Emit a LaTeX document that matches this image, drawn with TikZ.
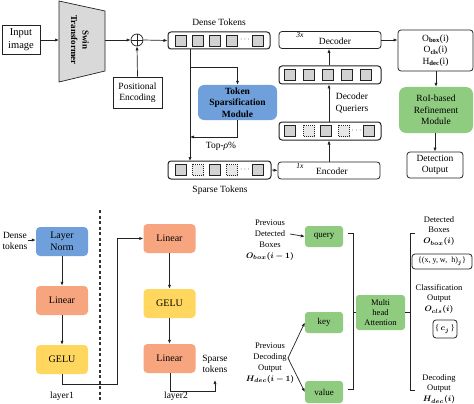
\documentclass[tikz,border=0pt]{standalone}
\usepackage{fontspec}
\setmainfont{Liberation Serif}
\usepackage{bm}
\usetikzlibrary{arrows.meta,calc}
\definecolor{blueM}{HTML}{6FA0DC}
\definecolor{orangeM}{HTML}{F7A57F}
\definecolor{yellowM}{HTML}{FFD75E}
\definecolor{greenM}{HTML}{90CC80}
\definecolor{lineM}{HTML}{222222}
\begin{document}
\begin{tikzpicture}[x=1pt,y=-1pt,
  every node/.style={font=\fontsize{9.5}{11.5}\selectfont, text=black},
  arr/.style={-{Latex[length=4pt,width=3.2pt]}, line width=0.7pt, draw=lineM},
  ln/.style={line width=0.7pt, draw=lineM},
  sbox/.style={draw=lineM, line width=0.8pt, align=center, inner sep=0pt},
  rbox/.style={sbox, rounded corners=3pt},
  tbox/.style={draw=lineM, line width=1pt, rounded corners=3pt, inner sep=0pt},
  cbox/.style={rounded corners=4pt, align=center, inner sep=0pt, minimum width=52pt, minimum height=29pt, font=\fontsize{10}{12}\selectfont},
  tok/.style={draw=lineM, line width=0.7pt, fill=gray!35, minimum size=11pt, inner sep=0pt},
  dtok/.style={tok, dash pattern=on 1pt off 1pt, fill=gray!18},
  lbl/.style={align=center, inner sep=0pt, font=\fontsize{8.5}{10.8}\selectfont},
  dots/.style={inner sep=0pt, font=\fontsize{8}{8}\selectfont}
]
\useasboundingbox (0,0) rectangle (474,404);

% ---------- top part ----------
\node[sbox, minimum width=38pt, minimum height=29pt, font=\fontsize{10.5}{13}\selectfont] (inp) at (21,40) {Input\\image};
\draw[ln, fill=gray!30] (59,1) -- (105,11) -- (105,71) -- (59,82) -- cycle;
\node[rotate=-90, align=center, font=\bfseries\fontsize{9}{11.5}\selectfont, inner sep=0pt] (swin) at (80,40) {Swin\\Transformer};
\coordinate (swinL) at (59,40);
\coordinate (swinR) at (105,40);
\draw[arr] (inp.east) -- (swinL);
\node[circle, draw=lineM, line width=0.7pt, minimum size=12pt, inner sep=0pt,
  path picture={\draw[line width=0.7pt] (path picture bounding box.north) -- (path picture bounding box.south)
  (path picture bounding box.west) -- (path picture bounding box.east);}] (plus) at (137,40) {};
\draw[arr] (swinR) -- (plus.west);
\node[sbox, minimum width=49pt, minimum height=31pt] (pe) at (137.5,92.5) {Positional\\Encoding};
\draw[arr] (pe.north) -- (plus.south);

% dense tokens
\node[tbox, minimum width=102pt, minimum height=17pt] (dense) at (219,40.5) {};
\node[inner sep=0pt] (denselbl) at (219,22) {Dense Tokens};
\foreach \x [count=\i] in {180.5,198,215,232,257.5} \node[tok] (d\i) at (\x,40.5) {};
\node[dots] (ddots) at (245,40) {$\cdots$};
\draw[arr] (plus.east) -- (dense.west);

% token sparsification
\node[rounded corners=6pt, fill=blueM, minimum width=79pt, minimum height=35pt, align=center, inner sep=0pt,
  font=\bfseries\fontsize{9.5}{11.5}\selectfont] (tsm) at (237.5,102.5) {Token\\Sparsification\\Module};

% sparse tokens
\node[tbox, minimum width=103pt, minimum height=18pt] (sparse) at (219.5,170) {};
\node[inner sep=0pt] (sparselbl) at (220,190) {Sparse Tokens};
\node[tok] (s1) at (180.5,170) {};
\node[dtok] (s2) at (198,170) {};
\node[tok] (s3) at (215,170) {};
\node[dtok] (s4) at (232,170) {};
\node[tok] (s5) at (257.5,170) {};
\node[dots] (sdots) at (245,169.5) {$\cdots$};

\coordinate (brA) at (190,49);
\coordinate (brB) at (190,67);
\coordinate (brC) at (190,137);
\coordinate (brD) at (190,161);
\draw[arr] (brA) -- (brD);
\draw[arr] (brB) -| (tsm.north);
\draw[arr] (tsm.south) |- (brC);
\node[inner sep=0pt] (topp) at (221,146) {Top-\textit{ρ}\%};

% encoder
\node[rbox, minimum width=102pt, minimum height=17pt] (enc) at (329,170.5) {};
\node[inner sep=0pt, font=\itshape\fontsize{7.5}{8}\selectfont] (enc1x) at (300,166) {1x};
\node[inner sep=0pt] (enclbl) at (332,171) {Encoder};
\draw[arr] (sparse.east) -- (enc.west);

% decoder queries
\node[tbox, minimum width=102pt, minimum height=18pt] (qlow) at (330,131) {};
\node[tok] (q1) at (289.5,131) {};
\node[dtok] (q2) at (309,131) {};
\node[tok] (q3) at (326,131) {};
\node[dtok] (q4) at (344,131) {};
\node[tok] (q5) at (368.5,131) {};
\node[dots] (qdots) at (356.5,130.5) {$\cdots$};

\node[tbox, minimum width=102pt, minimum height=18pt] (qup) at (330,75) {};
\foreach \x [count=\i] in {290,309,327.5,347,366} \node[tok] (u\i) at (\x,75) {};

\node[rbox, minimum width=102pt, minimum height=17pt] (dec) at (330,40) {};
\node[inner sep=0pt, font=\itshape\fontsize{7.5}{8}\selectfont] (dec3x) at (300,35) {3x};
\node[inner sep=0pt] (declbl) at (335,41) {Decoder};

\draw[arr] (enc.north -| 329,0) -- (qlow.south -| 329,0);
\draw[arr] (qlow.north -| 329,0) -- (qup.south -| 329,0);
\draw[arr] (qup.north -| 329,0) -- (dec.south -| 329,0);
\node[align=center, inner sep=0pt] (dqlbl) at (352,103) {Decoder\\Queriers};

% output
\node[rbox, minimum width=75pt, minimum height=41pt, font=\fontsize{9.5}{11.5}\selectfont] (outb) at (435.5,50.5)
  {O\textsubscript{\textbf{box}}(i)\\O\textsubscript{\textbf{cls}}(i)\\H\textsubscript{\textbf{dec}}(i)};
\draw[arr] (dec.east) -- (outb.west |- dec.east);
\node[rounded corners=7pt, fill=greenM, minimum width=74pt, minimum height=46pt, align=center, inner sep=0pt] (roi) at (436,110) {RoI-based\\Refinement\\Module};
\draw[arr] (outb.south -| roi.north) -- (roi.north);
\node[rbox, minimum width=56pt, minimum height=26pt] (det) at (435,165) {Detection\\Output};
\draw[arr] (roi.south -| det.north) -- (det.north);

% ---------- bottom left ----------
\node[cbox, fill=blueM] (lnorm) at (62,241.5) {Layer\\Norm};
\node[cbox, fill=orangeM] (lin1) at (62,300.5) {Linear};
\node[cbox, fill=yellowM] (gelu1) at (62,359.5) {GELU};
\node[cbox, fill=orangeM] (lin2) at (169.5,238.5) {Linear};
\node[cbox, fill=yellowM] (gelu2) at (169.5,303.5) {GELU};
\node[cbox, fill=orangeM] (lin3) at (169.5,358.5) {Linear};
\node[align=center, inner sep=0pt] (dtlbl) at (15,241) {Dense\\tokens};
\draw[arr] (dtlbl.east |- 0,240) -- (lnorm.west |- 0,240);
\draw[arr] (lnorm) -- (lin1);
\draw[arr] (lin1) -- (gelu1);
\draw[arr] (lin2) -- (gelu2);
\draw[arr] (gelu2) -- (lin3);
\coordinate (g1a) at (62,384);
\coordinate (g1b) at (117,384);
\draw[arr] (gelu1.south) -- (g1a) -- (g1b) |- (lin2.west);
\draw[line width=1.3pt, draw=gray!40!black, dash pattern=on 3pt off 2.5pt] (100,210) -- (100,402);
\node[inner sep=0pt] (l1lbl) at (62,396) {layer1};
\node[inner sep=0pt] (l2lbl) at (176,396) {layer2};
\coordinate (l3a) at (170,391);
\coordinate (l3b) at (215,391);
\coordinate (l3c) at (215,380);
\draw[arr] (lin3.south -| l3a) -- (l3a) -- (l3b) -- (l3c);
\node[align=center, inner sep=0pt] (stlbl) at (215,364) {Sparse\\tokens};

% ---------- bottom right ----------
\tikzset{gbox/.style={rounded corners=3pt, fill=greenM, align=center, inner sep=0pt, font=\fontsize{9}{10.5}\selectfont}}
\node[gbox, minimum width=38pt, minimum height=21pt] (query) at (324,236.5) {query};
\node[gbox, minimum width=38pt, minimum height=21pt] (key) at (324,322.5) {key};
\node[gbox, minimum width=38pt, minimum height=22pt] (value) at (324,392) {value};
\node[gbox, minimum width=49pt, minimum height=35pt, font=\fontsize{8.5}{10.3}\selectfont] (mha) at (380.5,312.5) {Multi\\head\\Attention};

\node[lbl] (pdb) at (270,240) {Previous\\Detected\\Boxes\\$\bm{O_{box}(i-1)}$};
\coordinate (pdbA) at (290,234);
\draw[arr] (pdbA) -- (query.west);
\node[lbl] (pdo) at (270,363) {Previous\\Decoding\\Output\\$\bm{H_{dec}(i-1)}$};
\coordinate (pdoA) at (288,358);
\draw[arr] (pdoA) -- (key.west);
\draw[arr] (pdoA) -- (value.west);

\coordinate (lbT) at (348,233);
\coordinate (lbB) at (348,389);
\draw[ln] (lbT) -- (353,233) -- (353,389) -- (lbB);
\draw[ln] (353,312.5) -- (mha.west);
\coordinate (rbT) at (415,233);
\coordinate (rbB) at (415,390);
\draw[ln] (rbT) -- (410,233) -- (410,390) -- (rbB);
\draw[ln] (mha.east) -- (410,312.5);

\node[lbl] (dbl) at (439,231) {Detected\\Boxes\\$\bm{O_{box}(i)}$};
\node[sbox, rounded corners=3pt, minimum width=60pt, minimum height=15pt, font=\fontsize{8}{10}\selectfont] (xywh) at (442,261.5) {\{(x, y, w,\ \ h)$_{\bm{j}}$\}};
\node[lbl] (cls) at (439,299) {Classification\\Output\\$\bm{O_{cls}(i)}$};
\node[sbox, rounded corners=3pt, minimum width=24pt, minimum height=18pt, font=\fontsize{8.5}{10}\selectfont] (cj) at (445,329) {\{\,$\bm{c_j}$\,\}};
\node[lbl] (dol) at (439,389) {Decoding\\Output\\$\bm{H_{dec}(i)}$};
\end{tikzpicture}
\end{document}
